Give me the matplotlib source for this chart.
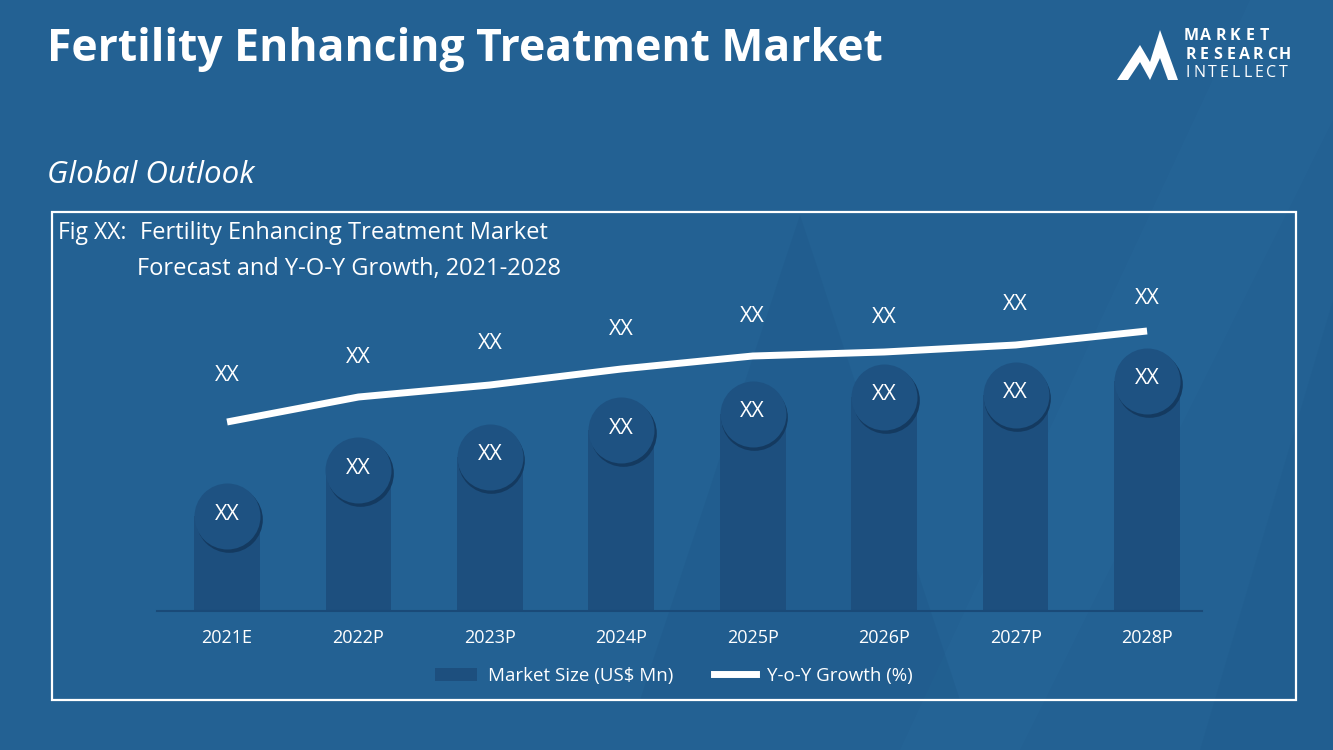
import matplotlib
matplotlib.use("Agg")
import matplotlib.pyplot as plt
from matplotlib.patches import Polygon, Rectangle
from matplotlib.lines import Line2D

categories = ["2021E", "2022P", "2023P", "2024P", "2025P", "2026P", "2027P", "2028P"]
market_size = [95, 141, 154, 181, 197, 214, 216, 230]
yoy_growth = [189, 214, 226, 242, 255, 259, 266, 280]
bar_labels = ["XX"] * 8
line_labels = ["XX"] * 8
line_label_offset = [46, 39, 41, 39, 39, 34, 40, 32]

BG = "#236193"
BAR = "#1d4f7e"
CIRC = "#1e5282"
SHADOW = "#143a60"
W, H = 1333, 750

fig = plt.figure(figsize=(W / 100, H / 100), dpi=100)
fig.patch.set_facecolor(BG)

def px(x, y):
    return (x / W, 1 - y / H)

# background decorations
deco = [
    ([(1250, 0), (1333, 0), (1333, 120), (1020, 750), (900, 750)], "#2a6a9d", 0.25),
    ([(800, 215), (640, 700), (960, 700)], "#1d5686", 0.3),
    ([(1333, 300), (1333, 750), (1200, 750)], "#1f5a8a", 0.3),
]
for pts, c, a in deco:
    fig.patches.append(Polygon([px(*p) for p in pts], closed=True, transform=fig.transFigure,
                               facecolor=c, edgecolor="none", alpha=a, zorder=-5))

# white frame
fig.patches.append(Rectangle(px(52, 700), (1296 - 52) / W, (700 - 212) / H, transform=fig.transFigure,
                             facecolor="none", edgecolor="white", linewidth=1.6, zorder=1))

# titles
fig.text(47 / W, 1 - 49 / H, "Fertility Enhancing Treatment Market", color="white",
         fontsize=32, fontweight="bold", family="Open Sans", va="center", ha="left")
fig.text(47 / W, 1 - 175 / H, "Global Outlook", color="white", fontsize=22.5,
         style="italic", family="Open Sans", va="center", ha="left")
fig.text(58 / W, 1 - 233 / H, "Fig XX:", color="white", fontsize=16.5, family="Open Sans",
         va="center", ha="left")
fig.text(140 / W, 1 - 233 / H, "Fertility Enhancing Treatment Market", color="white",
         fontsize=17, family="Open Sans", va="center", ha="left")
fig.text(137 / W, 1 - 269 / H, "Forecast and Y-O-Y Growth, 2021-2028", color="white",
         fontsize=17, family="Open Sans", va="center", ha="left")

# logo
logo = [(1117, 80), (1140, 45), (1150, 62), (1160, 30), (1178, 80), (1168, 80), (1160, 58), (1150, 80), (1140, 62), (1128, 80)]
fig.patches.append(Polygon([px(*p) for p in logo], closed=True, transform=fig.transFigure,
                           facecolor="white", edgecolor="none", zorder=3))

def spaced(word, x0, y, step, weight):
    for i, ch in enumerate(word):
        fig.text((x0 + step * i + step / 2) / W, 1 - y / H, ch, color="white", fontsize=11.5,
                 fontweight=weight, family="Open Sans", va="center", ha="center")

spaced("MARKET", 1184, 36, 14.6, "bold")
spaced("RESEARCH", 1184, 55, 13.5, "bold")
spaced("INTELLECT", 1182, 73, 11.9, "normal")

# axes: 1 data unit = 1 pixel vertically
ax_left, ax_right, ax_bot, ax_top = 157, 1202, 611, 280
ax = fig.add_axes([ax_left / W, 1 - ax_bot / H, (ax_right - ax_left) / W, (ax_bot - ax_top) / H])
ax.set_facecolor("none")
ax.set_ylim(0, ax_bot - ax_top)
x = list(range(len(categories)))
ax.set_xlim(-0.533, 7.418)

ax.bar(x, market_size, width=0.5, color=BAR, zorder=2)
r = 33
s = (2 * r * 0.72) ** 2
ax.scatter([xi + 0.012 for xi in x], [v - 3 for v in market_size], s=s * 1.02, color=SHADOW, zorder=3, linewidths=0)
ax.scatter(x, market_size, s=s, color=CIRC, zorder=4, linewidths=0)
for xi, v, lab in zip(x, market_size, bar_labels):
    ax.text(xi, v + 2, lab, color="white", fontsize=15.5, ha="center", va="center", zorder=5, family="Open Sans")

ax.plot(x, yoy_growth, color="white", linewidth=5, zorder=6, solid_capstyle="butt")
for xi, v, off, lab in zip(x, yoy_growth, line_label_offset, line_labels):
    ax.text(xi, v + off, lab, color="white", fontsize=15.5, ha="center", va="center", zorder=5, family="Open Sans")

for sp in ["top", "right", "left"]:
    ax.spines[sp].set_visible(False)
ax.spines["bottom"].set_color("#1a4a78")
ax.spines["bottom"].set_linewidth(1.5)
ax.set_yticks([])
ax.set_xticks(x)
ax.set_xticklabels(categories, color="white", fontsize=13, family="Open Sans")
ax.tick_params(axis="x", length=0, pad=13)

# legend
handles = [Rectangle((0, 0), 1, 1, facecolor=BAR, edgecolor="none"),
           Line2D([0], [0], color="white", linewidth=5)]
leg = fig.legend(handles, ["Market Size (US$ Mn)", "Y-o-Y Growth (%)"], loc="center",
                 bbox_to_anchor=(674 / W, 1 - 676 / H), ncol=2, frameon=False,
                 prop={"family": "Open Sans", "size": 13.5}, handlelength=2.2, handleheight=0.7,
                 columnspacing=2.2, handletextpad=0.6)
for t in leg.get_texts():
    t.set_color("white")

fig.savefig("out.png", dpi=100, facecolor=BG)
